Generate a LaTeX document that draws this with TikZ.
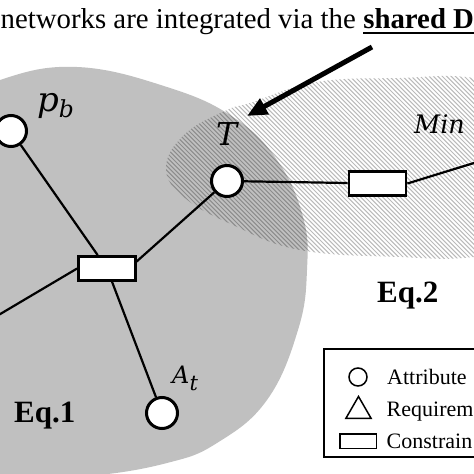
\documentclass[tikz,border=0pt]{standalone}
\usepackage{fontspec}
\setmainfont{Liberation Serif}
\newfontfamily\labfont{DejaVu Serif}
\usetikzlibrary{arrows.meta,calc,shapes.geometric}
\definecolor{blobgray}{RGB}{192,192,192}
\begin{document}
\begin{tikzpicture}[x=1pt,y=-1pt,
  attr/.style={circle,draw=black,fill=white,line width=3pt,minimum size=31pt,inner sep=0pt},
  cons/.style={rectangle,draw=black,fill=white,line width=2.8pt,minimum width=57pt,minimum height=24pt,inner sep=0pt},
  link/.style={line width=2.2pt},
  lbl/.style={inner sep=0pt,anchor=base west},
  hatchline/.style={line width=1pt,black,opacity=0.27},
  legendshape/.style={draw=black,fill=white,line width=1.5pt,inner sep=0pt},
  legendtext/.style={inner sep=0pt,anchor=base west,font=\fontsize{22}{24}\selectfont},
  eqtext/.style={inner sep=0pt,anchor=base west,font=\fontsize{31}{33}\selectfont\bfseries}
]
\useasboundingbox (0,0) rectangle (474,474);
\clip (0,0) rectangle (474,474);

% Eq.1 region
\fill[blobgray] plot[smooth cycle, tension=0.7] coordinates {
  (-60,112) (0,80) (77,67) (167,87) (233,117) (277,160) (303,217) (307,270)
  (298,330) (267,400) (217,443) (167,463) (90,476) (0,480) (-80,420) (-110,260)};

% Eq.2 region (hatched)
\begin{scope}
  \clip plot[smooth cycle, tension=0.7] coordinates {
    (166,168) (185,134) (227,110) (250,103) (317,82) (400,78) (474,78) (560,100)
    (560,240) (474,257) (400,257) (300,250) (233,225) (185,198)};
  \foreach \i in {-80,-75.6,...,570} {
    \draw[hatchline] (\i,60) -- ++(220,220);
  }
\end{scope}

% title
\node[lbl,font=\fontsize{28.8}{30}\selectfont] (title1) at (0.5,28) {networks are integrated via the};
\node[lbl,font=\fontsize{28.8}{30}\selectfont\bfseries,xshift=7.2pt] (title2) at (title1.base east) {shared D};
\draw[line width=2pt] ($(title2.base west)+(0,5)$) -- ($(title2.base east)+(10,5)$);

% arrow
\coordinate (arrowstart) at (372,47);
\coordinate (arrowtip) at (247,116);
\draw[line width=5pt,-{Triangle[length=20pt,width=17pt]}] (arrowstart) -- (arrowtip);

% nodes
\node[attr] (pb) at (11,131) {};
\node[attr] (T) at (227,181) {};
\node[attr] (At) at (162,413) {};
\node[cons] (c1) at (107,268.5) {};
\node[cons] (c2) at (377.5,183.5) {};
\coordinate (offL) at (-20,326);
\coordinate (offR) at (500,155);

% connectors
\draw[link] (pb) -- (c1);
\draw[link] (At) -- (c1);
\draw[link] (T) -- ($(c1.east)+(-1.4,-6)$);
\draw[link] (c1.west) -- (offL);
\draw[link] (T) -- (c2);
\draw[link] (c2.east) -- (offR);

% labels
\node[lbl,font=\labfont\itshape] (lpb) at (37,111)
  {\fontsize{34}{36}\selectfont p\raisebox{-6.5pt}{\fontsize{23.5}{25}\selectfont b}};
\node[lbl,font=\labfont\itshape] (lT) at (216,145) {\fontsize{31.5}{33}\selectfont T};
\node[lbl,font=\labfont\itshape] (lMin) at (414,133) {\fontsize{25.5}{27}\selectfont Min};
\node[lbl,font=\labfont\itshape] (lAt) at (172,383)
  {\fontsize{24}{26}\selectfont A\raisebox{-7pt}{\fontsize{21}{23}\selectfont t}};
\node[eqtext] (eq1) at (14,422) {Eq.1};
\node[eqtext] (eq2) at (377,302) {Eq.2};

% legend
\draw[line width=1.5pt] (324,349) rectangle (495,457);
\node[legendshape,circle,minimum size=18pt] (lcirc) at (358,377) {};
\node[legendshape,regular polygon,regular polygon sides=3,minimum size=29pt] (ltri) at (358.5,411) {};
\node[legendshape,rectangle,minimum width=36.5pt,minimum height=14.5pt] (lrect) at (358,441) {};
\node[legendtext] (tattr) at (387,384) {Attribute};
\node[legendtext] (treq) at (386.5,416) {Requirem};
\node[legendtext] (tcons) at (386.5,448) {Constrain};
\end{tikzpicture}
\end{document}
